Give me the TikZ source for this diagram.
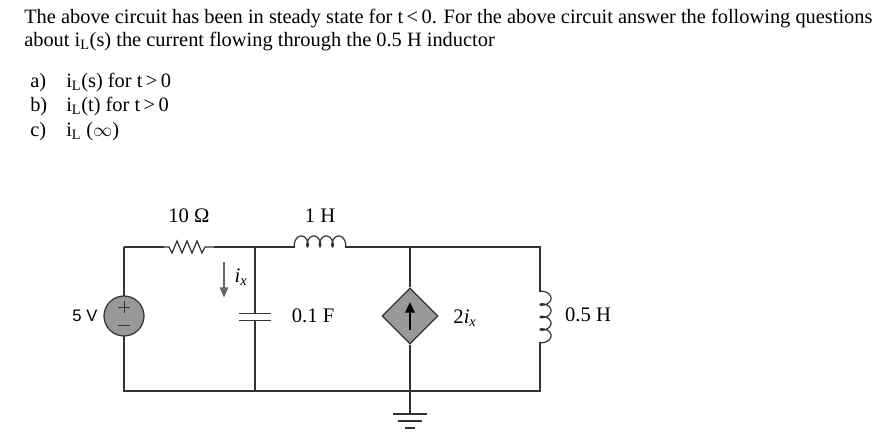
\documentclass[tikz,border=0pt]{standalone}
\usepackage{fontspec}
\setmainfont{Liberation Serif}
\newfontfamily\sansf{Liberation Sans}
\usetikzlibrary{arrows.meta,shapes.geometric}
\begin{document}
\begin{tikzpicture}[x=0.75pt,y=-0.75pt,
  wire/.style={draw=black!80,line width=0.9pt},
  lbl/.style={inner sep=0pt,font=\fontsize{15.5}{18}\selectfont},
  txt/.style={inner sep=0pt,anchor=base west,font=\fontsize{15.3}{18}\selectfont}]
\useasboundingbox (0,0) rectangle (893,445);
% text
\node[txt] (t1) at (24,24) {The above circuit has been in steady state for t\,<\,0. For the above circuit answer the following questions};
\node[txt] (t2) at (24,47) {about i\textsubscript{L}(s) the current flowing through the 0.5 H inductor};
\node[txt] (qa) at (30,88) {\makebox[27pt][l]{a)}i\textsubscript{L}(s) for t\,>\,0};
\node[txt] (qb) at (30,112) {\makebox[27pt][l]{b)}i\textsubscript{L}(t) for t\,>\,0};
\node[txt] (qc) at (30,137) {\makebox[27pt][l]{c)}i\textsubscript{L} ($\infty$)};
% coordinates
\coordinate (tl) at (124,247); \coordinate (bl) at (124,391);
\coordinate (r1) at (164,247); \coordinate (r2) at (214,247);
\coordinate (n1) at (255,247); \coordinate (nb1) at (255,391);
\coordinate (l1) at (295,247); \coordinate (l2) at (345,247);
\coordinate (n2) at (410,247); \coordinate (nb2) at (410,391);
\coordinate (tr) at (540,247); \coordinate (br) at (540,391);
\coordinate (v1) at (540,292); \coordinate (v2) at (540,342);
\coordinate (g) at (410,414);
% wires
\draw[wire] (tl) -- (r1);
\draw[wire] (r1) -- ++(5,0) -- ++(3,6) -- ++(5,-12) -- ++(5,12) -- ++(5,-12) -- ++(5,12) -- ++(5,-12) -- ++(5,12) -- ++(3,-6) -- (r2);
\draw[wire] (r2) -- (n1) -- (l1);
\draw[wire] plot[domain=0:25.1327,samples=240,variable=\t,smooth] ({295+12.5*\t/6.2832-3.2*sin(\t r)},{247-11*(1-cos(\t r))/2});
\draw[wire] (l2) -- (n2) -- (tr) -- (v1);
\draw[wire] plot[domain=0:25.1327,samples=240,variable=\t,smooth] ({540+11*(1-cos(\t r))/2},{292+12.5*\t/6.2832-3.2*sin(\t r)});
\draw[wire] (v2) -- (br) -- (bl) -- (124,336);
\draw[wire] (tl) -- (124,296);
% voltage source
\node[circle,draw=black!80,line width=0.9pt,fill=black!40,minimum size=30pt,inner sep=0pt] (vs) at (124,316) {};
\draw[black!80,line width=0.7pt] (118,307)--(130,307) (124,301)--(124,313) (118,325)--(130,325);
\node[inner sep=0pt,font=\sansf\fontsize{12.5}{14}\selectfont] (v5) at (85,316) {5 V};
% capacitor
\draw[wire] (n1) -- (255,313.5); \draw[wire] (255,320.5) -- (nb1);
\draw[wire] (239,313.5) -- (271,313.5) (239,320.5) -- (271,320.5);
\node[lbl] (cl) at (313,316) {0.1 F};
% ix arrow
\draw[black!60,line width=1.8pt,-{Triangle[length=8pt,width=6pt]}] (224,262) -- (224,298);
\node[lbl] (ix) at (241,277) {\textit{i}\textsubscript{\textit{x}}};
% dependent source
\node[diamond,draw=black!80,line width=0.9pt,fill=black!40,minimum size=42pt,inner sep=0pt] (ds) at (410,316) {};
\draw[wire] (n2) -- (ds.north); \draw[wire] (ds.south) -- (g);
\draw[black,line width=1.8pt,-{Triangle[length=8pt,width=7pt]}] (410,330) -- (410,302);
\node[lbl] (dl) at (465,318) {2\textit{i}\textsubscript{\textit{x}}};
\node[lbl] (ll) at (588,315) {0.5 H};
% ground
\draw[wire] (393,414)--(427,414) (398,421)--(422,421) (405,428)--(415,428);
% labels top
\node[lbl] (rl) at (189,216) {10 Ω};
\node[lbl] (il) at (320,216) {1 H};
\end{tikzpicture}
\end{document}
